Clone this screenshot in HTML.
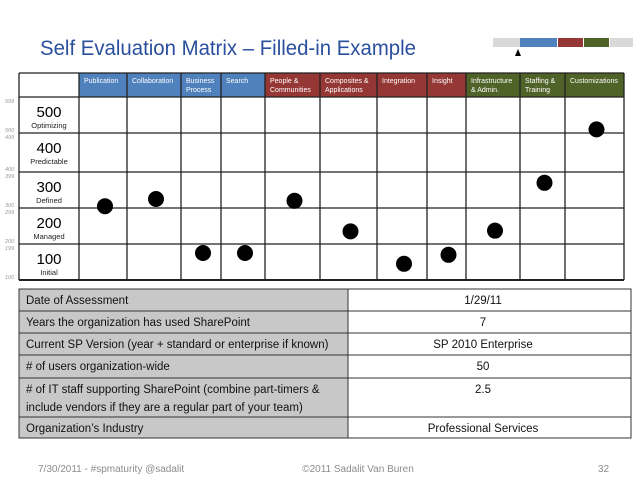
<!DOCTYPE html>
<html><head><meta charset="utf-8"><style>
body{margin:0;width:638px;height:493px;background:#fff;overflow:hidden;font-family:"Liberation Sans",sans-serif;}
</style></head><body>
<svg id="chart" width="638" height="493" xmlns="http://www.w3.org/2000/svg">
<text x="40" y="55" font-size="21" fill="#2a4f9e" textLength="376" lengthAdjust="spacingAndGlyphs">Self Evaluation Matrix – Filled-in Example</text>
<g>
<rect x="493" y="38" width="27" height="9" fill="#d9d9d9"/>
<rect x="520" y="38" width="37" height="9" fill="#4f81bd"/>
<rect x="558" y="38" width="25" height="9" fill="#953735"/>
<rect x="584" y="38" width="25" height="9" fill="#4f6228"/>
<rect x="610" y="38" width="23" height="9" fill="#d9d9d9"/>
<polygon points="515,56 521,56 518,49" fill="#000"/>
</g>
<g id="grid"></g>
<g id="dots"></g>
<g id="info"></g>
<text x="38" y="472" font-size="10" fill="#8c8c8c">7/30/2011 - #spmaturity @sadalit</text>
<text x="358" y="472" font-size="10" fill="#8c8c8c" text-anchor="middle">©2011 Sadalit Van Buren</text>
<text x="598" y="472" font-size="10" fill="#8c8c8c">32</text>
</svg>
<script>
const categories=["Publication","Collaboration","Business|Process","Search","People &|Communities","Composites &|Applications","Integration","Insight","Infrastructure|& Admin.","Staffing &|Training","Customizations"];
const groupColors=["#4f81bd","#4f81bd","#4f81bd","#4f81bd","#953735","#953735","#953735","#953735","#4f6228","#4f6228","#4f6228"];
const scores=[305,325,175,175,320,235,145,170,237,370,510];
const levels=[500,400,300,200,100];
const levelNames=["Optimizing","Predictable","Defined","Managed","Initial"];
const infoLabels=["Date of Assessment","Years the organization has used SharePoint","Current SP Version  (year + standard or enterprise if known)","# of users organization-wide","# of IT staff supporting SharePoint (combine part-timers &|include vendors if they are a regular part of your team)","Organization’s Industry"];
const infoValues=["1/29/11","7","SP 2010 Enterprise","50","2.5","Professional Services"];

const NS="http://www.w3.org/2000/svg";
function mk(tag,attrs,parent){const e=document.createElementNS(NS,tag);for(const k in attrs)e.setAttribute(k,attrs[k]);parent.appendChild(e);return e;}
const colEdges=[79,127,181,221,265,320,377,427,466,520,565,624];
const rowEdges=[97,133,172,208,244,280];
function yScale(v){const i=Math.min(4,Math.max(0,Math.floor((600-v)/100)));const top=rowEdges[i],bot=rowEdges[i+1];const hiV=600-i*100;return top+(hiV-v)/100*(bot-top);}
function xCenter(i){return (colEdges[i]+colEdges[i+1])/2+2;}
const grid=document.getElementById('grid');
categories.forEach((c,i)=>{
 const r=mk('rect',{x:colEdges[i],y:73,width:colEdges[i+1]-colEdges[i],height:24,fill:groupColors[i]},grid);
 
 
 const t=mk('text',{x:colEdges[i]+5,y:83,'font-size':'7',fill:'#fff'},grid);
 
 
 c.split('|').forEach((ln,j)=>{const ts=mk('tspan',{x:colEdges[i]+5,dy:j?9:0},t);ts.textContent=ln;});
});
levels.forEach((lv,i)=>{
 const t=mk('text',{x:49,y:rowEdges[i]+20,'font-size':'15','text-anchor':'middle',fill:'#000'},grid);t.textContent=lv;
 
 
 const n=mk('text',{x:49,y:rowEdges[i]+31,'font-size':'7.5','text-anchor':'middle',fill:'#222'},grid);n.textContent=levelNames[i];
 
 
 const a=mk('text',{x:5,y:rowEdges[i]+6,'font-size':'5.5',fill:'#999','font-style':'italic'},grid);a.textContent=lv+99;
 
 
 const b=mk('text',{x:5,y:rowEdges[i+1]-1,'font-size':'5.5',fill:'#999','font-style':'italic'},grid);b.textContent=lv;
 
 
});
mk('line',{x1:19,y1:73,x2:624,y2:73,stroke:'#222','stroke-width':1.3},grid);
rowEdges.forEach((y,i)=>{mk('line',{x1:19,y1:y,x2:624,y2:y,stroke:'#222','stroke-width':i==5?2:1.3},grid);});
mk('line',{x1:19,y1:73,x2:19,y2:280,stroke:'#222','stroke-width':1.3},grid);
colEdges.forEach(x=>{mk('line',{x1:x,y1:73,x2:x,y2:280,stroke:'#222','stroke-width':1.3},grid);});
const dots=document.getElementById('dots');
scores.forEach((s,i)=>{const c=mk('circle',{cx:xCenter(i),cy:yScale(s),r:8,fill:'#000'},dots);
 
 });
const info=document.getElementById('info');
const iRows=[289,311,333,355,378,417,438];
infoLabels.forEach((l,i)=>{
 mk('rect',{x:19,y:iRows[i],width:329,height:iRows[i+1]-iRows[i],fill:'#c8c8c8',stroke:'#333','stroke-width':1},info);
 mk('rect',{x:348,y:iRows[i],width:283,height:iRows[i+1]-iRows[i],fill:'#fff',stroke:'#333','stroke-width':1},info);
 const t=mk('text',{x:26,y:iRows[i]+15,'font-size':'11.5',fill:'#111'},info);
 
 
 l.split('|').forEach((ln,j)=>{const ts=mk('tspan',{x:26,dy:j?18:0},t);ts.textContent=ln;});
 const v=mk('text',{x:483,y:iRows[i]+15,'font-size':'11.5','text-anchor':'middle',fill:'#111'},info);v.textContent=infoValues[i];
 
 
});
</script>
</body></html>
